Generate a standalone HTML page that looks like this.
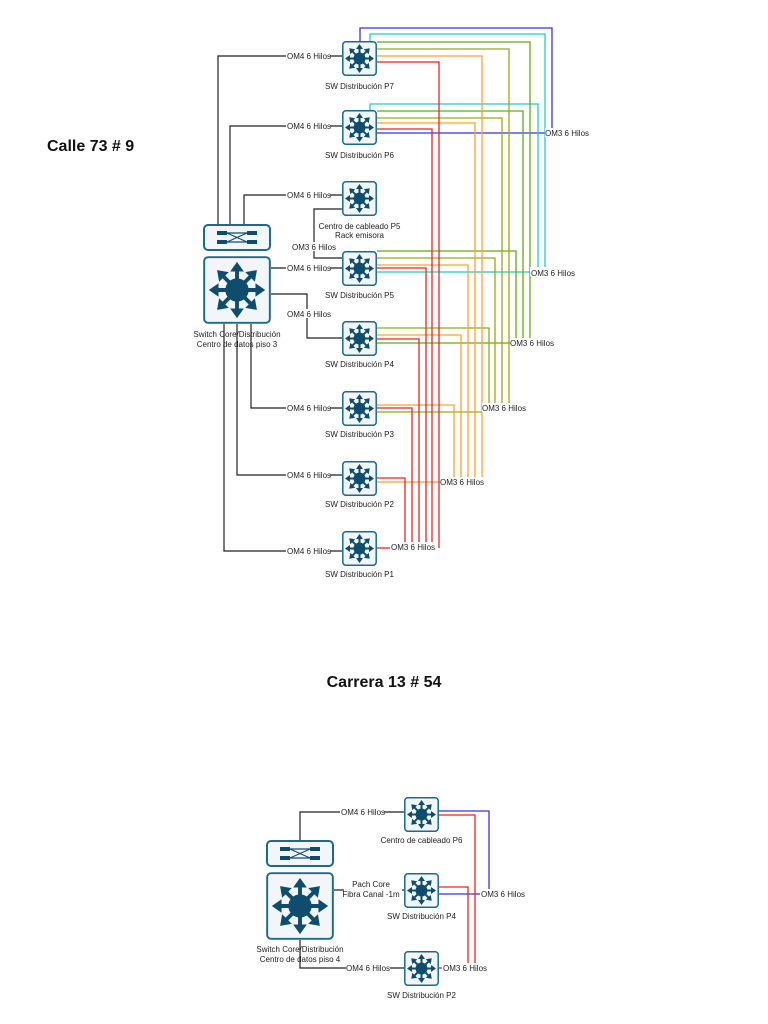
<!DOCTYPE html>
<html><head><meta charset="utf-8"><style>
html,body{margin:0;padding:0;background:#fff;}
svg{display:block;font-family:"Liberation Sans",Arial,sans-serif;}
.l{font-size:8px;fill:#222;}
.bl{fill:none;stroke:#222;stroke-width:1.2;}
.c{fill:none;stroke-width:1.3;}
</style></head><body>
<svg width="768" height="1024" viewBox="0 0 768 1024" xmlns="http://www.w3.org/2000/svg">
<defs>
<g id="ar"><line x1="17.5" y1="17.5" x2="17.5" y2="7" stroke="#0e4d6e" stroke-width="2"/><polygon points="17.5,3 14,8 21,8" fill="#0e4d6e"/></g>
<symbol id="sw" viewBox="0 0 35 35">
<rect x="0.8" y="0.8" width="33.4" height="33.4" rx="3" fill="#f3f6f8" stroke="#1a6b8c" stroke-width="1.5"/>
<use href="#ar"/><use href="#ar" transform="rotate(45 17.5 17.5)"/><use href="#ar" transform="rotate(90 17.5 17.5)"/><use href="#ar" transform="rotate(135 17.5 17.5)"/><use href="#ar" transform="rotate(180 17.5 17.5)"/><use href="#ar" transform="rotate(225 17.5 17.5)"/><use href="#ar" transform="rotate(270 17.5 17.5)"/><use href="#ar" transform="rotate(315 17.5 17.5)"/>
<circle cx="17.5" cy="17.5" r="6" fill="#0e4d6e"/>
</symbol>
<symbol id="core" viewBox="0 0 35 35">
<rect x="0.6" y="0.6" width="33.8" height="33.8" rx="2" fill="#f3f6f8" stroke="#1a6b8c" stroke-width="1"/>
<use href="#ar"/><use href="#ar" transform="rotate(45 17.5 17.5)"/><use href="#ar" transform="rotate(90 17.5 17.5)"/><use href="#ar" transform="rotate(135 17.5 17.5)"/><use href="#ar" transform="rotate(180 17.5 17.5)"/><use href="#ar" transform="rotate(225 17.5 17.5)"/><use href="#ar" transform="rotate(270 17.5 17.5)"/><use href="#ar" transform="rotate(315 17.5 17.5)"/>
<circle cx="17.5" cy="17.5" r="6" fill="#0e4d6e"/>
</symbol>
<symbol id="rt" viewBox="0 0 68 27">
<rect x="1" y="1" width="66" height="25" rx="4" fill="#f3f6f8" stroke="#1a6b8c" stroke-width="2"/>
<rect x="14" y="7" width="10" height="4" fill="#0e4d6e"/><rect x="44" y="7" width="10" height="4" fill="#0e4d6e"/>
<rect x="14" y="16" width="10" height="4" fill="#0e4d6e"/><rect x="44" y="16" width="10" height="4" fill="#0e4d6e"/>
<line x1="24" y1="9" x2="44" y2="9" stroke="#0e4d6e" stroke-width="1.2"/><line x1="24" y1="18" x2="44" y2="18" stroke="#0e4d6e" stroke-width="1.2"/>
<line x1="24" y1="9" x2="44" y2="18" stroke="#0e4d6e" stroke-width="1"/><line x1="24" y1="18" x2="44" y2="9" stroke="#0e4d6e" stroke-width="1"/>
</symbol>
</defs>

<text x="47" y="151" font-size="16" font-weight="bold" fill="#111">Calle 73 # 9</text>
<text x="384" y="687" font-size="16" font-weight="bold" fill="#111" text-anchor="middle">Carrera 13 # 54</text>

<!-- colored lines top -->
<g class="c">
<!-- blue -->
<polyline stroke="#3333ee" points="360,41 360,28 552,28 552,133 377,133"/>
<!-- cyan -->
<polyline stroke="#22cccc" points="370,41 370,34 545,34 545,272"/>
<polyline stroke="#22cccc" points="370,110 370,104 538,104 538,272"/>
<polyline stroke="#22cccc" points="377,272 530,272"/>
<!-- green -->
<polyline stroke="#66aa11" points="377,42 530,42 530,343"/>
<polyline stroke="#66aa11" points="377,111 523,111 523,343"/>
<polyline stroke="#66aa11" points="377,251 516,251 516,343"/>
<polyline stroke="#66aa11" points="377,343 510,343"/>
<!-- olive -->
<polyline stroke="#99aa11" points="377,49 509,49 509,408"/>
<polyline stroke="#99aa11" points="377,118 502,118 502,408"/>
<polyline stroke="#99aa11" points="377,258 495,258 495,408"/>
<polyline stroke="#99aa11" points="377,328 489,328 489,408"/>
<polyline stroke="#99aa11" points="377,412 482,412"/>
<!-- orange -->
<polyline stroke="#ffa030" points="377,56 482,56 482,482"/>
<polyline stroke="#ffa030" points="377,123 475,123 475,482"/>
<polyline stroke="#ffa030" points="377,265 468,265 468,482"/>
<polyline stroke="#ffa030" points="377,335 461,335 461,482"/>
<polyline stroke="#ffa030" points="377,405 454,405 454,482"/>
<polyline stroke="#ffa030" points="377,482 440,482"/>
<!-- red -->
<polyline stroke="#ee2222" points="377,62 439,62 439,548"/>
<polyline stroke="#ee2222" points="377,129 432,129 432,548"/>
<polyline stroke="#ee2222" points="377,268 426,268 426,548"/>
<polyline stroke="#ee2222" points="377,339 419,339 419,548"/>
<polyline stroke="#ee2222" points="377,408 412,408 412,548"/>
<polyline stroke="#ee2222" points="377,478 405,478 405,548"/>
<polyline stroke="#ee2222" points="377,548 390,548"/>
</g>

<!-- black lines top -->
<g class="bl">
<polyline points="218,224 218,56 342,56"/>
<polyline points="230,224 230,126 342,126"/>
<polyline points="244,224 244,195 342,195"/>
<polyline points="271,268 342,268"/>
<polyline points="271,294 307,294 307,338 342,338"/>
<polyline points="251,324 251,408 342,408"/>
<polyline points="237,324 237,475 342,475"/>
<polyline points="224,324 224,551 342,551"/>
<polyline points="342,209 314,209 314,258 342,258"/>
</g>

<!-- label backgrounds + labels top -->
<g class="l">
<rect x="286" y="51" width="44" height="9" fill="#fff"/><text x="287" y="59">OM4 6 Hilos</text>
<rect x="286" y="121" width="44" height="9" fill="#fff"/><text x="287" y="129">OM4 6 Hilos</text>
<rect x="286" y="190" width="44" height="9" fill="#fff"/><text x="287" y="198">OM4 6 Hilos</text>
<rect x="286" y="263" width="44" height="9" fill="#fff"/><text x="287" y="271">OM4 6 Hilos</text>
<rect x="286" y="309" width="44" height="9" fill="#fff"/><text x="287" y="317">OM4 6 Hilos</text>
<rect x="286" y="403" width="44" height="9" fill="#fff"/><text x="287" y="411">OM4 6 Hilos</text>
<rect x="286" y="470" width="44" height="9" fill="#fff"/><text x="287" y="478">OM4 6 Hilos</text>
<rect x="286" y="546" width="44" height="9" fill="#fff"/><text x="287" y="554">OM4 6 Hilos</text>
<rect x="292" y="242" width="44" height="9" fill="#fff"/><text x="292" y="250">OM3 6 Hilos</text>
<rect x="545" y="128" width="44" height="9" fill="#fff"/><text x="545" y="136">OM3 6 Hilos</text>
<rect x="530" y="267" width="44" height="9" fill="#fff"/><text x="531" y="276">OM3 6 Hilos</text>
<rect x="510" y="338" width="44" height="9" fill="#fff"/><text x="510" y="346">OM3 6 Hilos</text>
<rect x="482" y="403" width="44" height="9" fill="#fff"/><text x="482" y="411">OM3 6 Hilos</text>
<rect x="440" y="477" width="44" height="9" fill="#fff"/><text x="440" y="485">OM3 6 Hilos</text>
<rect x="390" y="542" width="44" height="9" fill="#fff"/><text x="391" y="550">OM3 6 Hilos</text>

<text x="359.5" y="89" text-anchor="middle">SW Distribución P7</text>
<text x="359.5" y="158" text-anchor="middle">SW Distribución P6</text>
<text x="359.5" y="229" text-anchor="middle">Centro de cableado P5</text>
<text x="359.5" y="238" text-anchor="middle">Rack emisora</text>
<text x="359.5" y="298" text-anchor="middle">SW Distribución P5</text>
<text x="359.5" y="367" text-anchor="middle">SW Distribución P4</text>
<text x="359.5" y="437" text-anchor="middle">SW Distribución P3</text>
<text x="359.5" y="507" text-anchor="middle">SW Distribución P2</text>
<text x="359.5" y="577" text-anchor="middle">SW Distribución P1</text>
<text x="237" y="337" text-anchor="middle">Switch Core/Distribución</text>
<text x="237" y="347" text-anchor="middle">Centro de datos piso 3</text>
</g>

<!-- icons top -->
<use href="#sw" x="342" y="41" width="35" height="35"/>
<use href="#sw" x="342" y="110" width="35" height="35"/>
<use href="#sw" x="342" y="181" width="35" height="35"/>
<use href="#sw" x="342" y="251" width="35" height="35"/>
<use href="#sw" x="342" y="321" width="35" height="35"/>
<use href="#sw" x="342" y="391" width="35" height="35"/>
<use href="#sw" x="342" y="461" width="35" height="35"/>
<use href="#sw" x="342" y="531" width="35" height="35"/>
<use href="#rt" x="203" y="224" width="68" height="27"/>
<use href="#core" x="203" y="256" width="68" height="68"/>

<!-- bottom -->
<g class="c">
<polyline stroke="#3333ee" points="439,811 489,811 489,894 439,894"/>
<polyline stroke="#ee2222" points="439,815 475,815 475,968"/>
<polyline stroke="#ee2222" points="439,887 468,887 468,968"/>
<polyline stroke="#ee2222" points="439,968 445,968"/>
</g>
<g class="bl">
<polyline points="300,840 300,812 404,812"/>
<polyline points="334,890 404,890"/>
<polyline points="300,940 300,968 404,968"/>
</g>
<g class="l">
<rect x="340" y="807" width="44" height="9" fill="#fff"/><text x="341" y="815">OM4 6 Hilos</text>
<rect x="344" y="879" width="58" height="20" fill="#fff"/>
<text x="371" y="887" text-anchor="middle">Pach Core</text>
<text x="371" y="897" text-anchor="middle">Fibra Canal -1m</text>
<rect x="346" y="963" width="44" height="9" fill="#fff"/><text x="346" y="971">OM4 6 Hilos</text>
<rect x="480" y="889" width="44" height="9" fill="#fff"/><text x="481" y="897">OM3 6 Hilos</text>
<rect x="442" y="963" width="44" height="9" fill="#fff"/><text x="443" y="971">OM3 6 Hilos</text>
<text x="421.5" y="843" text-anchor="middle">Centro de cableado P6</text>
<text x="421.5" y="919" text-anchor="middle">SW Distribución P4</text>
<text x="421.5" y="998" text-anchor="middle">SW Distribución P2</text>
<text x="300" y="952" text-anchor="middle">Switch Core/Distribución</text>
<text x="300" y="962" text-anchor="middle">Centro de datos piso 4</text>
</g>
<use href="#sw" x="404" y="797" width="35" height="35"/>
<use href="#sw" x="404" y="873" width="35" height="35"/>
<use href="#sw" x="404" y="951" width="35" height="35"/>
<use href="#rt" x="266" y="840" width="68" height="27"/>
<use href="#core" x="266" y="872" width="68" height="68"/>
</svg>
</body></html>
